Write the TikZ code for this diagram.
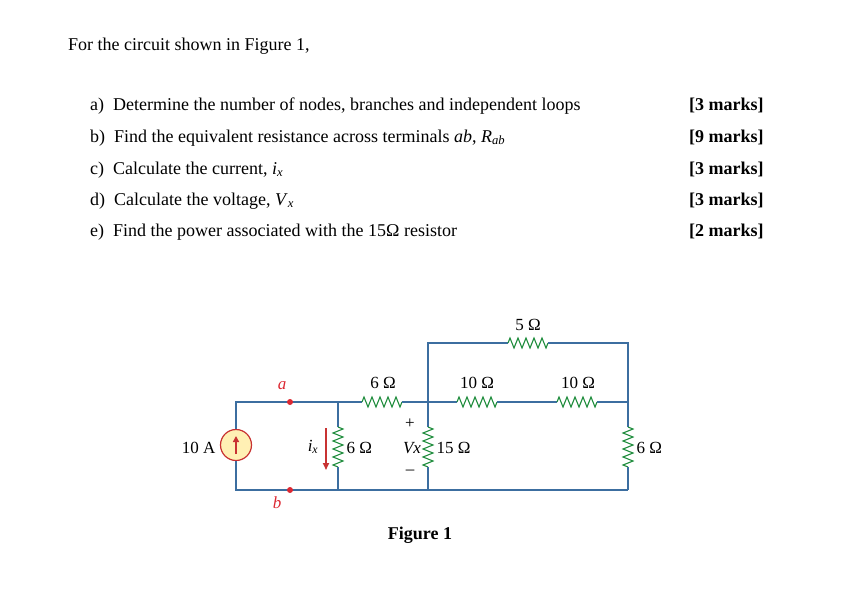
\documentclass[tikz,border=0pt]{standalone}
\usepackage{fontspec}
\setmainfont{Liberation Serif}
\usetikzlibrary{decorations.pathmorphing,arrows.meta}
\definecolor{wire}{RGB}{60,110,160}
\definecolor{res}{RGB}{30,140,60}
\definecolor{lab}{RGB}{220,40,50}
\definecolor{src}{RGB}{200,50,50}
\definecolor{srcf}{RGB}{255,240,180}
\begin{document}
\begin{tikzpicture}[x=1pt,y=-1pt,
  w/.style={wire,line width=1.2pt},
  r/.style={res,line width=1.1pt,decorate,decoration={zigzag,segment length=8pt,amplitude=5pt}},
  txt/.style={anchor=base west,inner sep=0pt,font=\fontsize{18}{20}\selectfont},
  mk/.style={anchor=base west,inner sep=0pt,font=\bfseries\fontsize{18}{20}\selectfont},
  cl/.style={font=\fontsize{17}{19}\selectfont},
  dot/.style={circle,fill=lab,inner sep=0pt,minimum size=6pt}]
\useasboundingbox (0,0) rectangle (846,613);
\node[txt] (t0) at (68,50) {For the circuit shown in Figure 1,};
\node[txt] (qa) at (90,110) {a)\ \ Determine the number of nodes, branches and independent loops};
\node[txt] (qb) at (90,142) {b)\ \ Find the equivalent resistance across terminals \textit{ab}, \textit{R}\textsubscript{\textit{ab}}};
\node[txt] (qc) at (90,174) {c)\ \ Calculate the current, \textit{i}\textsubscript{\textit{x}}};
\node[txt] (qd) at (90,205) {d)\ \ Calculate the voltage, \textit{V}\textsubscript{\textit{x}}};
\node[txt] (qe) at (90,236) {e)\ \ Find the power associated with the 15Ω resistor};
\node[mk] (ma) at (689,110) {[3 marks]};
\node[mk] (mb) at (689,142) {[9 marks]};
\node[mk] (mc) at (689,174) {[3 marks]};
\node[mk] (md) at (689,205) {[3 marks]};
\node[mk] (me) at (689,236) {[2 marks]};
\coordinate (tl) at (236,402); \coordinate (bl) at (236,490);
\coordinate (n1) at (338,402); \coordinate (n1b) at (338,490);
\coordinate (n2) at (428,402); \coordinate (n2b) at (428,490);
\coordinate (n3) at (628,402); \coordinate (n3b) at (628,490);
\coordinate (t2) at (428,343); \coordinate (t3) at (628,343);
\node[circle,draw=src,fill=srcf,line width=1.2pt,minimum size=31pt,inner sep=0pt] (S) at (236,445) {};
\draw[src,line width=1.6pt,-{Triangle[length=6pt,width=6pt]}] (236,454) -- (236,436);
\draw[w] (S.north) -- (tl) -- (n1) -- (362,402);
\draw[r] (362,402) -- (402,402);
\draw[w] (402,402) -- (457,402); \draw[r] (457,402) -- (497,402);
\draw[w] (497,402) -- (557,402); \draw[r] (557,402) -- (597,402);
\draw[w] (597,402) -- (n3);
\draw[w] (n2) -- (t2) -- (508,343); \draw[r] (508,343) -- (548,343);
\draw[w] (548,343) -- (t3) -- (n3);
\draw[w] (S.south) -- (bl) -- (n3b);
\draw[w] (n1) -- (338,427); \draw[r] (338,427) -- (338,467); \draw[w] (338,467) -- (n1b);
\draw[w] (n2) -- (428,427); \draw[r] (428,427) -- (428,467); \draw[w] (428,467) -- (n2b);
\draw[w] (n3) -- (628,427); \draw[r] (628,427) -- (628,467); \draw[w] (628,467) -- (n3b);
\node[dot] (da) at (290,402) {}; \node[dot] (db) at (290,490) {};
\node[text=lab,font=\itshape\fontsize{17}{19}\selectfont] (la) at (282,386) {a};
\node[text=lab,font=\itshape\fontsize{17}{19}\selectfont] (lb) at (277,503) {b};
\node[cl,anchor=east] (l10) at (219,448) {10 A};
\node[cl] (r1) at (383,383) {6 Ω};
\node[cl] (r2) at (477,383) {10 Ω};
\node[cl] (r3) at (578,383) {10 Ω};
\node[cl] (r4) at (528,325) {5 Ω};
\node[cl,anchor=west] (r5) at (343,448) {6 Ω};
\node[cl,anchor=west] (r6) at (433,448) {15 Ω};
\node[cl,anchor=west] (r7) at (633,448) {6 Ω};
\node[cl,font=\itshape\fontsize{17}{19}\selectfont] (vx) at (412,448) {Vx};
\node[cl] (pl) at (410,424) {+};
\node[cl] (mi) at (410,472) {–};
\node[cl] (ix) at (313,447) {\textit{i}\textsubscript{\textit{x}}};
\coordinate (ia) at (326,428); \coordinate (ib) at (326,470);
\draw[src,line width=1.6pt,-{Triangle[length=7pt,width=6pt]}] (ia) -- (ib);
\node[font=\bfseries\fontsize{18}{20}\selectfont] (fig) at (420,535) {Figure 1};
\end{tikzpicture}
\end{document}
